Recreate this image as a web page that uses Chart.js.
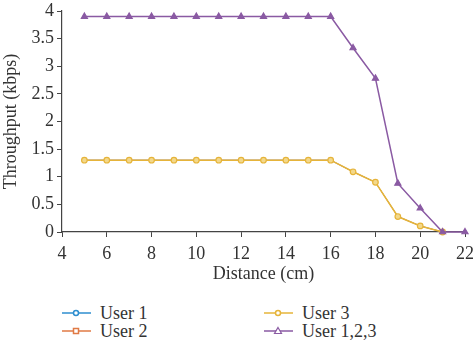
<!DOCTYPE html>
<html>
<head>
<meta charset="utf-8">
<script src="https://cdn.jsdelivr.net/npm/chart.js@4"></script>
<style>
  body { margin: 0; background: #fff; font-family: "Liberation Serif", serif; }
  #wrap { width: 474px; height: 342px; position: relative; }
  #chart { position: absolute; left: 0; top: 0; }
  .legend { position: absolute; font-size: 18px; color: #333; line-height: 18px; }
  .item { display: flex; align-items: center; height: 18px; }
  .item svg { margin-right: 9px; }
</style>
</head>
<body>
<div id="wrap">
  <canvas id="chart" width="474" height="284"></canvas>
  <div class="legend" style="left:62px; top:304px;" id="legA"></div>
  <div class="legend" style="left:264px; top:304px;" id="legB"></div>
</div>
<script>
const distance = [5, 6, 7, 8, 9, 10, 11, 12, 13, 14, 15, 16, 17, 18, 19, 20, 21, 22];
const user1 = [1.3, 1.3, 1.3, 1.3, 1.3, 1.3, 1.3, 1.3, 1.3, 1.3, 1.3, 1.3, 1.09, 0.9, 0.28, 0.11, 0, null];
const user2 = [1.3, 1.3, 1.3, 1.3, 1.3, 1.3, 1.3, 1.3, 1.3, 1.3, 1.3, 1.3, 1.09, 0.9, 0.28, 0.11, 0, null];
const user3 = [1.3, 1.3, 1.3, 1.3, 1.3, 1.3, 1.3, 1.3, 1.3, 1.3, 1.3, 1.3, 1.09, 0.9, 0.28, 0.11, 0, null];
const userAll = [3.9, 3.9, 3.9, 3.9, 3.9, 3.9, 3.9, 3.9, 3.9, 3.9, 3.9, 3.9, 3.33, 2.78, 0.88, 0.43, 0, 0];

const seriesNames = ["User 1", "User 2", "User 3", "User 1,2,3"];
const colors = ["#2e8ecf", "#e07a45", "#e6b43a", "#8a5aa3"];
const markers = ["circle", "rect", "circle", "triangle"];
const drawOrder = [3, 2, 1, 0];

function toPoints(values) {
  return distance.map((d, i) => ({ x: d, y: values[i] }));
}

const axisColor = "#444";
const font = { family: "Liberation Serif", size: 18 };

const datasets = [user1, user2, user3, userAll].map((vals, i) => ({
  label: seriesNames[i],
  data: toPoints(vals),
  order: drawOrder[i],
  clip: false,
  borderColor: colors[i],
  backgroundColor: i === 3 ? colors[i] : "#f3d88a",
  pointBackgroundColor: i === 3 ? colors[i] : "#f3d88a",
  pointBorderColor: colors[i],
  pointStyle: markers[i],
  pointRadius: i === 3 ? 3.5 : (i === 2 ? 2.8 : 2),
  pointBorderWidth: i < 2 ? 0.8 : 1.2,
  borderWidth: i < 2 ? 0.8 : 1.5,
  tension: 0,
  spanGaps: false
}));

new Chart(document.getElementById("chart"), {
  type: "line",
  data: { datasets: datasets },
  options: {
    responsive: false,
    animation: false,
    layout: { padding: 0 },
    plugins: { legend: { display: false }, tooltip: { enabled: false } },
    scales: {
      x: {
        type: "linear",
        min: 4,
        max: 22,
        afterFit: s => { s.paddingRight = 9; s.paddingLeft = 0; s.height = 52; },
        ticks: {
          stepSize: 2, color: "#333", padding: 8, maxRotation: 0,
          font: { family: "Liberation Serif", size: 18, lineHeight: 1 }
        },
        grid: { drawOnChartArea: false, drawTicks: true, tickLength: 5, color: axisColor },
        border: { color: axisColor, width: 1.2 },
        title: {
          display: true, text: "Distance (cm)", color: "#333",
          font: { family: "Liberation Serif", size: 18, lineHeight: 1 },
          padding: { top: 0, bottom: 1 }
        }
      },
      y: {
        min: 0,
        max: 4,
        afterFit: s => { s.width = 62; s.paddingTop = 11; },
        ticks: {
          stepSize: 0.5, color: "#333", font: font, padding: 3,
          callback: v => String(v)
        },
        grid: { drawOnChartArea: false, drawTicks: true, tickLength: 5, color: axisColor },
        border: { color: axisColor, width: 1.2 },
        title: { display: true, text: "Throughput (kbps)", color: "#333", font: font, padding: { top: 0, bottom: 0 } }
      }
    }
  }
});

// html legend in two columns
function legendItem(i) {
  const c = colors[i];
  let mark;
  if (markers[i] === "circle") mark = `<circle cx="14" cy="6" r="2.5" fill="#fff" stroke="${c}" stroke-width="1.5"/>`;
  else if (markers[i] === "rect") mark = `<rect x="11.5" y="3.5" width="5" height="5" fill="#fff" stroke="${c}" stroke-width="1.5"/>`;
  else mark = `<polygon points="14,2.5 17.5,8.5 10.5,8.5" fill="#fff" stroke="${c}" stroke-width="1.2"/>`;
  return `<div class="item"><svg width="29" height="12"><line x1="0" y1="6" x2="29" y2="6" stroke="${c}" stroke-width="1.5"/>${mark}</svg><span>${seriesNames[i]}</span></div>`;
}
document.getElementById("legA").innerHTML = legendItem(0) + legendItem(1);
document.getElementById("legB").innerHTML = legendItem(2) + legendItem(3);
</script>
</body>
</html>
